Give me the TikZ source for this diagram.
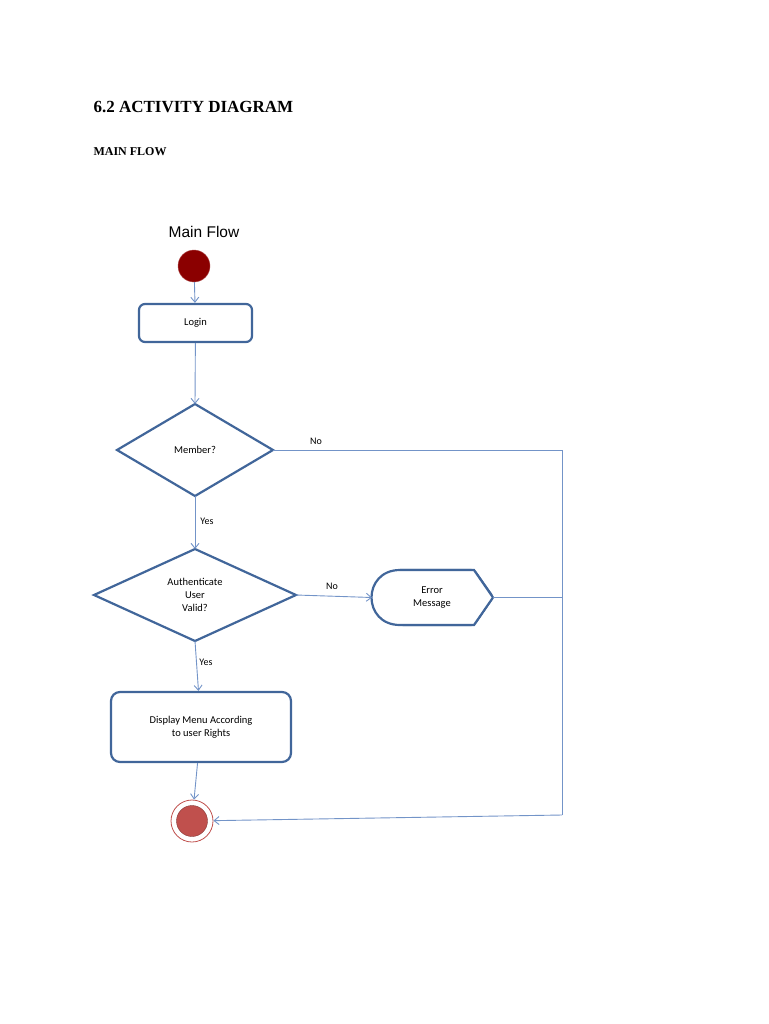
\documentclass[tikz,border=0pt]{standalone}
\usepackage{fontspec}
\setmainfont{Liberation Serif}
\newfontfamily\uifont{Carlito}
\newfontfamily\arialf{Liberation Sans}
\usetikzlibrary{shapes.geometric,arrows.meta}
\definecolor{boxc}{HTML}{41669A}
\definecolor{linec}{HTML}{7394C8}
\definecolor{startc}{HTML}{8B0000}
\definecolor{endc}{HTML}{C0504D}
\begin{document}
\begin{tikzpicture}[x=1pt,y=-1pt,
  box/.style={draw=boxc,line width=2.2pt,rounded corners=6pt,fill=white,font=\uifont\fontsize{10.5}{13}\selectfont,align=center},
  dia/.style={draw=boxc,line width=2.2pt,diamond,fill=white,font=\uifont\fontsize{10.5}{13}\selectfont,align=center},
  conn/.style={draw=linec,line width=0.9pt,-{Straight Barb[length=5pt,width=8pt]}},
  plain/.style={draw=linec,line width=0.9pt},
  lab/.style={font=\uifont\fontsize{10}{12}\selectfont}]
\useasboundingbox (0,0) rectangle (768,1024);
\node[anchor=west,font=\bfseries\fontsize{17}{20}\selectfont] (t1) at (90,107) {6.2 ACTIVITY DIAGRAM};
\node[anchor=west,font=\bfseries\fontsize{12}{14}\selectfont] (t2) at (90,152) {MAIN FLOW};
\node[font=\arialf\fontsize{15.5}{18}\selectfont] (mf) at (204,232) {Main Flow};
\node[circle,fill=startc,draw=startc!70,minimum size=32pt,inner sep=0] (start) at (194,266) {};
\node[box,minimum width=113pt,minimum height=38pt] (login) at (195.5,323) {Login};
\draw[dia,sharp corners] (195,404) -- (273,450) -- (195,496) -- (117,450) -- cycle;
\node[font=\uifont\fontsize{10.5}{13}\selectfont] (member) at (195,450) {Member?};
\coordinate (mtop) at (195,404); \coordinate (mbot) at (195,496); \coordinate (mr) at (273,450);
\draw[dia,sharp corners] (195,549) -- (296,595) -- (195,641) -- (94,595) -- cycle;
\node[font=\uifont\fontsize{10.5}{13}\selectfont,align=center] (auth) at (195,595) {Authenticate\\User\\Valid?};
\coordinate (atop) at (195,549); \coordinate (abot) at (195,641); \coordinate (ar) at (296,595);
\draw[draw=boxc,line width=2.2pt,fill=white,rounded corners=3pt] (400,570) -- (474,570) -- (493,597) -- (474,625) -- (400,625) [sharp corners] arc[start angle=90,end angle=-90,radius=0pt] ;
\draw[draw=boxc,line width=2.2pt,fill=white] (400,570) -- (474,570) -- (493,597.5) -- (474,625) -- (400,625) .. controls (362,625) and (362,570) .. (400,570) -- cycle;
\node[font=\uifont\fontsize{10.5}{13}\selectfont,align=center] (err) at (432,597.5) {Error\\Message};
\coordinate (el) at (372,597.5); \coordinate (er) at (493,597.5);
\node[box,minimum width=180pt,minimum height=70pt,rounded corners=9pt] (disp) at (201,727) {Display Menu According\\to user Rights};
\node[circle,draw=endc,line width=0.8pt,fill=white,minimum size=42pt,inner sep=0] (end) at (192,821) {};
\node[circle,fill=endc,draw=endc!70!black,minimum size=31pt,inner sep=0] (endi) at (192,821) {};
\coordinate (r1) at (562,450); \coordinate (r2) at (562,597.5); \coordinate (r3) at (562,815);
\draw[conn] (start) -- (login);
\draw[conn] (login) -- (mtop);
\draw[conn] (mbot) -- (atop);
\draw[conn] (abot) -- (disp);
\draw[conn] (ar) -- (el);
\draw[conn] (disp) -- (end);
\draw[plain] (mr) -- (r1) -- (r3);
\draw[plain] (er) -- (r2);
\draw[conn] (r3) -- (end);
\node[lab] (no1) at (316,441) {No};
\node[lab] (yes1) at (207,521) {Yes};
\node[lab] (no2) at (332,586) {No};
\node[lab] (yes2) at (206,662) {Yes};
\end{tikzpicture}
\end{document}
